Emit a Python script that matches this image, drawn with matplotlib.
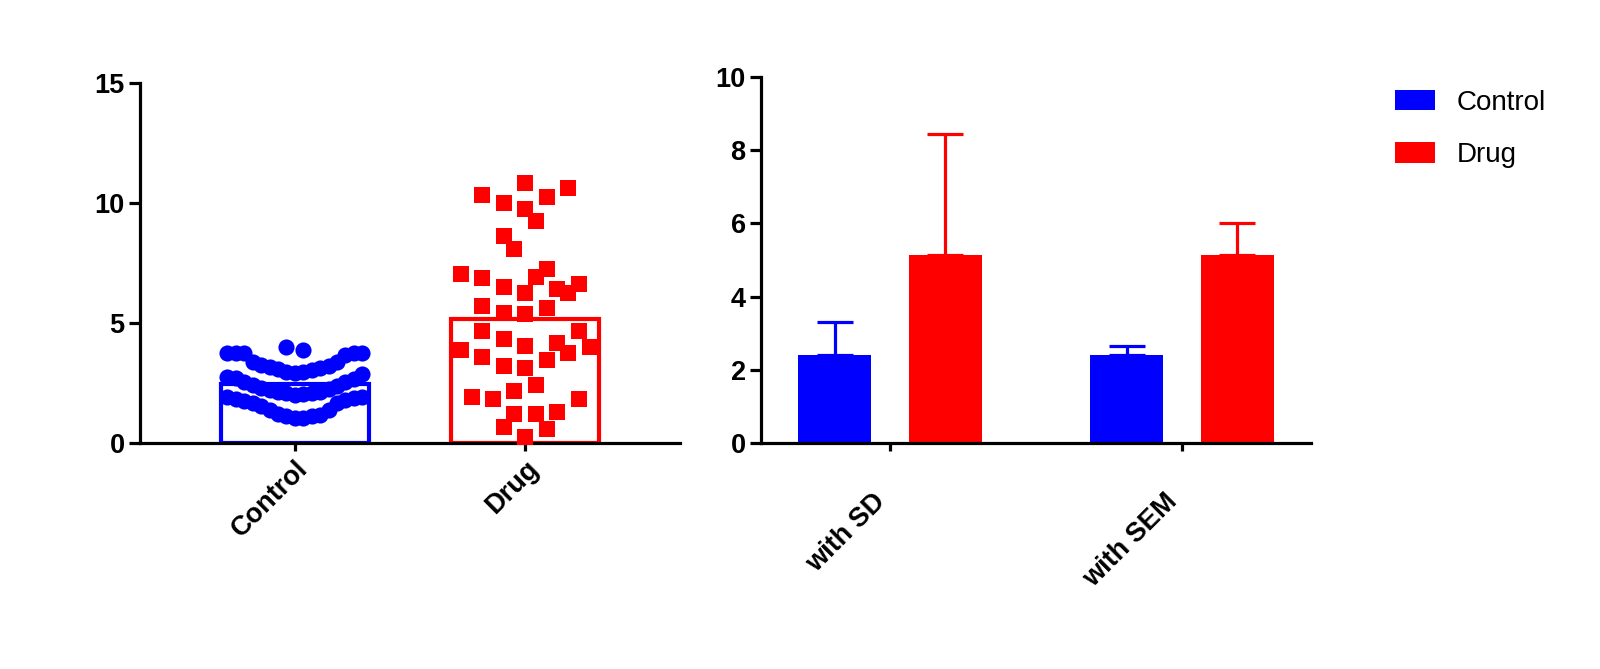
import matplotlib
matplotlib.use('Agg')
import matplotlib.pyplot as plt
import matplotlib.transforms as mtransforms
import numpy as np

plt.rcParams['font.family'] = ['Liberation Sans', 'DejaVu Sans']

# ---------------- data ----------------
groups = ['Control', 'Drug']

# Control scatter: horizontal slot (column index in the dot spread) and value
control_slots = [-8, -7, -6, -5, -4, -3, -2, -1, 0, 1, 2, 3, 4, 5, 6, 7, 8,
                 -1, 1,
                 -8, -7, -6, -5, -4, -3, -2, -1, 0, 1, 2, 3, 4, 5, 6, 7, 8,
                 -8, -7, -6, -5, -4, -3, -2, -1, 0, 1, 2, 3, 4, 5, 6, 7, 8]
control_values = [3.76, 3.76, 3.74, 3.39, 3.25, 3.15, 3.07, 2.97, 2.90, 2.94, 3.04, 3.11, 3.21, 3.35, 3.67, 3.76, 3.76,
                  3.99, 3.85,
                  2.76, 2.69, 2.55, 2.42, 2.30, 2.21, 2.14, 2.07, 2.00, 2.02, 2.07, 2.14, 2.25, 2.38, 2.55, 2.65, 2.87,
                  1.93, 1.82, 1.76, 1.65, 1.54, 1.38, 1.22, 1.10, 1.03, 1.05, 1.10, 1.17, 1.38, 1.65, 1.79, 1.85, 1.90]

drug_slots = [0, 4, -4, 2, -2, 0, 1, -2, -1, 2, -6, 1, -4, 5, -2, 3, 0, 4,
              -4, -2, 0, 2, -4, 5, -6, -2, 0, 3, 4, 6, -4, -2, 0, 2,
              1, -1, -5, -3, 5, -1, 1, 3, -2, 2, 0]
drug_values = [10.85, 10.61, 10.33, 10.24, 10.01, 9.74, 9.26, 8.63, 8.07, 7.24, 7.05, 6.93, 6.86, 6.63, 6.51, 6.40, 6.26, 6.24,
               5.71, 5.40, 5.38, 5.61, 4.68, 4.68, 3.88, 4.32, 4.04, 4.15, 3.74, 4.01, 3.57, 3.21, 3.14, 3.46,
               2.42, 2.17, 1.93, 1.82, 1.82, 1.21, 1.21, 1.30, 0.68, 0.57, 0.24]

summary_labels = ['with SD', 'with SEM']
control_means = [2.40, 2.40]
drug_means = [5.13, 5.13]
control_err = [0.90, 0.25]
drug_err = [3.32, 0.87]

BLUE = '#0000FF'
RED = '#FF0000'

# ---------------- figure ----------------
fig = plt.figure(figsize=(16, 6.69), dpi=100)

LW = 2.3
TICKFS = 19.5

def style_axes(ax):
    for s in ['top', 'right']:
        ax.spines[s].set_visible(False)
    for s in ['left', 'bottom']:
        ax.spines[s].set_linewidth(LW)
    ax.tick_params(axis='both', width=LW, length=8, labelsize=TICKFS, pad=3)
    for lab in ax.get_yticklabels() + ax.get_xticklabels():
        lab.set_fontweight('bold')

# ---- left panel: scatter with mean bar ----
ax1 = fig.add_axes([0.0875, 0.338, 0.3375, 0.538])
bar_w = 0.645
colors = [BLUE, RED]
slot_step = [0.0366, 0.0466]
slots = [control_slots, drug_slots]
vals = [control_values, drug_values]
markers = ['o', 's']
sizes = [135, 125]
for i in range(2):
    ax1.bar(i, np.mean(vals[i]), width=bar_w, fill=False, edgecolor=colors[i],
            linewidth=3, zorder=2)
    xs = i + np.array(slots[i]) * slot_step[i]
    ax1.scatter(xs, vals[i], marker=markers[i], s=sizes[i], color=colors[i],
                linewidths=0, zorder=3, clip_on=False)
ax1.set_xlim(-0.672, 1.672)
ax1.set_ylim(0, 15)
ax1.set_yticks([0, 5, 10, 15])
ax1.set_xticks([0, 1])
ax1.set_xticklabels(groups, rotation=45, ha='right', va='top', rotation_mode='anchor')
style_axes(ax1)
ax1.tick_params(axis='x', length=6)

# ---- right panel: grouped bars with error bars ----
ax2 = fig.add_axes([0.4756, 0.338, 0.3438, 0.547])
xg = np.arange(len(summary_labels))
off = 0.19
bw = 0.25
ax2.bar(xg - off, control_means, width=bw, color=BLUE, label='Control', zorder=2)
ax2.bar(xg + off, drug_means, width=bw, color=RED, label='Drug', zorder=2)
ax2.errorbar(xg - off, control_means, yerr=[np.zeros(2), control_err], fmt='none',
             ecolor=BLUE, elinewidth=LW, capsize=13, capthick=LW, zorder=1)
ax2.errorbar(xg + off, drug_means, yerr=[np.zeros(2), drug_err], fmt='none',
             ecolor=RED, elinewidth=LW, capsize=13, capthick=LW, zorder=1)
ax2.set_xlim(-0.442, 1.442)
ax2.set_ylim(0, 10)
ax2.set_yticks([0, 2, 4, 6, 8, 10])
ax2.set_xticks(xg)
ax2.set_xticklabels(summary_labels, rotation=45, ha='right', va='top', rotation_mode='anchor')
style_axes(ax2)
ax2.tick_params(axis='x', length=6)
shift = mtransforms.ScaledTranslation(-13 / 72, -24 / 72, fig.dpi_scale_trans)
for lab in ax2.get_xticklabels():
    lab.set_transform(lab.get_transform() + shift)

handles, labels = ax2.get_legend_handles_labels()
fig.legend(handles, labels, loc='upper left', bbox_to_anchor=(0.872, 0.866),
           frameon=False, fontsize=20, handlelength=1.45, handleheight=0.75,
           handletextpad=0.75, labelspacing=0.95, borderpad=0, borderaxespad=0)

fig.savefig('out.png', dpi=100)
